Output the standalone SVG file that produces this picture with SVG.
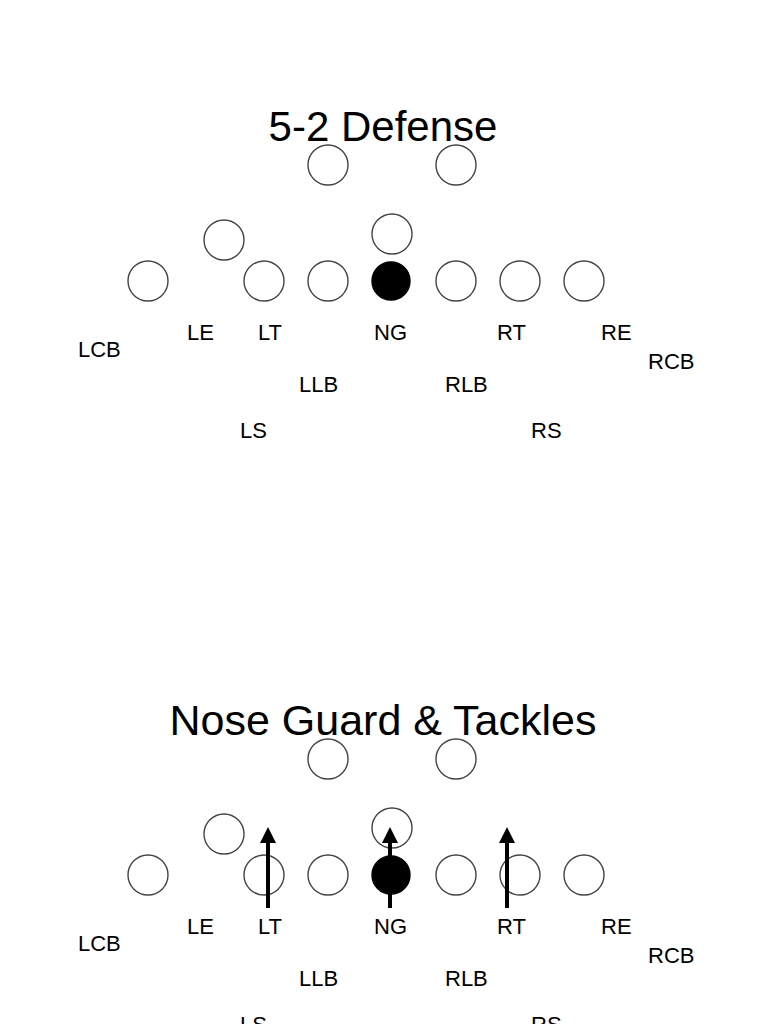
<svg xmlns="http://www.w3.org/2000/svg" width="768" height="1024" viewBox="0 0 768 1024">
<style>
.t{font-family:"Liberation Sans",Arial,sans-serif;font-size:42px;fill:#000;text-anchor:middle}
.l{font-family:"Liberation Sans",Arial,sans-serif;font-size:22px;fill:#000}
.p{fill:#fff;stroke:#444;stroke-width:1.4}
.f{fill:#000;stroke:#000;stroke-width:1.4}
.ln{stroke:#000;stroke-width:4}
.hd{fill:#000}
</style>
<defs>
<g id="formation">
<circle class="p" cx="328" cy="165" r="20"/>
<circle class="p" cx="456" cy="165" r="20"/>
<circle class="p" cx="224" cy="240" r="20"/>
<circle class="p" cx="392" cy="234" r="20"/>
<circle class="p" cx="148" cy="281" r="20"/>
<circle class="p" cx="264" cy="281" r="20"/>
<circle class="p" cx="328" cy="281" r="20"/>
<circle class="f" cx="391" cy="281" r="19"/>
<circle class="p" cx="456" cy="281" r="20"/>
<circle class="p" cx="520" cy="281" r="20"/>
<circle class="p" cx="584" cy="281" r="20"/>
<text class="l" x="78" y="357">LCB</text>
<text class="l" x="187" y="340">LE</text>
<text class="l" x="258" y="340">LT</text>
<text class="l" x="374" y="340">NG</text>
<text class="l" x="497" y="340">RT</text>
<text class="l" x="601" y="340">RE</text>
<text class="l" x="648" y="369">RCB</text>
<text class="l" x="299" y="392">LLB</text>
<text class="l" x="445" y="392">RLB</text>
<text class="l" x="240" y="438">LS</text>
<text class="l" x="531" y="438">RS</text>
</g>
</defs>
<rect width="768" height="1024" fill="#fff"/>
<g id="slide1">
<text class="t" x="383" y="141">5-2 Defense</text>
<use href="#formation"/>
</g>
<g id="slide2">
<text class="t" x="383" y="735" style="font-size:43px">Nose Guard &amp; Tackles</text>
<use href="#formation" transform="translate(0,594)"/>
</g>
<g id="connectors">
<line class="ln" x1="268" y1="908" x2="268" y2="843"/>
<path class="hd" d="M260,843 L268,827 L276,843 Z"/>
<line class="ln" x1="390" y1="908" x2="390" y2="843"/>
<path class="hd" d="M382,843 L390,827 L398,843 Z"/>
<line class="ln" x1="507" y1="908" x2="507" y2="843"/>
<path class="hd" d="M499,843 L507,827 L515,843 Z"/>
</g>
</svg>
